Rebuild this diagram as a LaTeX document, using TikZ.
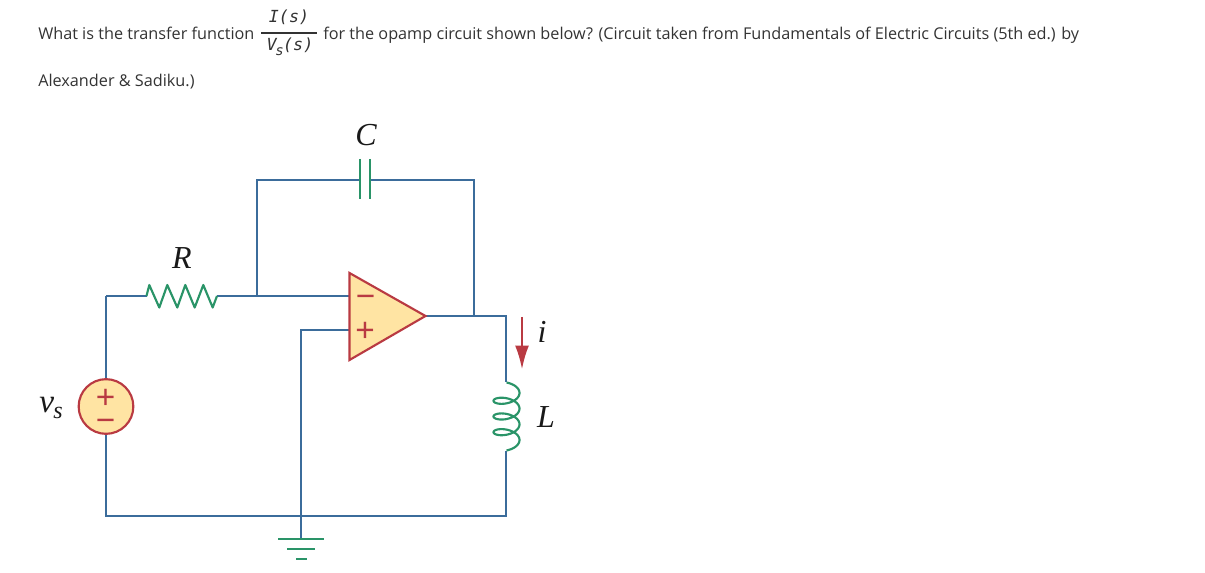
\documentclass[tikz,border=0pt]{standalone}
\usepackage{fontspec}
\setmainfont{Open Sans}
\setsansfont{Liberation Sans}
\newfontfamily\fracfont{DejaVu Sans Mono}
\newfontfamily\labelfont{Liberation Serif}
\usetikzlibrary{arrows.meta}
\definecolor{wireblue}{HTML}{3B6C9B}
\definecolor{partgreen}{HTML}{2A9468}
\definecolor{opred}{HTML}{B93A42}
\definecolor{opfill}{HTML}{FFE4A3}
\definecolor{textgray}{HTML}{333333}
\tikzset{
    wire/.style={draw=wireblue, line width=1.9pt, line join=miter},
    part/.style={draw=partgreen, line width=1.6pt},
    question/.style={anchor=base west, text=textgray, font=\fontsize{12.18}{14}\selectfont, inner sep=0pt},
    fracpart/.style={text=textgray, font=\fontsize{12.5}{14}\fracfont\itshape, inner sep=0pt},
    complabel/.style={text=black!90, font=\fontsize{24}{25}\labelfont\itshape, inner sep=0pt},
    sign/.style={anchor=base, text=opred, font=\fontsize{25}{26}\sffamily, inner sep=0pt},
}
\begin{document}
\begin{tikzpicture}[x=0.75pt, y=-0.75pt, >={Latex[length=18pt, width=10.5pt]}]
    \useasboundingbox (0,0) rectangle (1205,573);

    % Question text
    \node[question] (q1) at (38,39.5) {What is the transfer function};
    \node[question] (q2) at (323,39.5) {for the opamp circuit shown below? (Circuit taken from Fundamentals of Electric Circuits (5th ed.) by};
    \node[question] (q3) at (38,86.5) {Alexander \& Sadiku.)};
    \node[fracpart] (num) at (289,17) {I(s)};
    \node[fracpart] (den) at (290,47) {V\kern-1pt\raisebox{-3.5pt}{\fontsize{10.5}{12}\selectfont s}\kern-0.5pt(s)};
    \coordinate (fl) at (261,33);
    \coordinate (fr) at (317,33);
    \draw[textgray, line width=0.9pt] (fl) -- (fr);

    % Corners and junctions
    \coordinate (nw) at (106,296);
    \coordinate (rl) at (146.5,296);
    \coordinate (rr) at (217,296);
    \coordinate (jn) at (257,296);
    \coordinate (tl) at (257,180);
    \coordinate (cl) at (360,180);
    \coordinate (cr) at (370,180);
    \coordinate (tr) at (474,180);
    \coordinate (jo) at (474,316);
    \coordinate (ne) at (506,316);
    \coordinate (lt) at (506,382);
    \coordinate (lb) at (506,451);
    \coordinate (se) at (506,516);
    \coordinate (jg) at (301,516);
    \coordinate (sw) at (106,516);
    \coordinate (ip) at (301,330);

    % Wires
    \draw[wire] (nw) -- (rl);
    \draw[wire] (rr) -- (349.5,296);
    \draw[wire] (jn) -- (tl) -- (cl);
    \draw[wire] (cr) -- (tr) -- (jo);
    \draw[wire] (425,316) -- (ne) -- (lt);
    \draw[wire] (lb) -- (se) -- (sw) -- (nw);
    \draw[wire] (349.5,330) -- (ip) -- (jg);

    % Opamp
    \coordinate (out) at (425.5,316);
    \coordinate (ot) at (349.5,273);
    \coordinate (ob) at (349.5,360);
    \draw[draw=opred, fill=opfill, line width=1.6pt, line join=miter] (ot) -- (out) -- (ob) -- cycle;
    \node[sign] (minus) at (365.5,307) {−};
    \node[sign] (plus) at (365,341) {+};

    % Source
    \node[circle, draw=opred, fill=opfill, line width=1.6pt, minimum size=41pt, inner sep=0pt] (vs) at (106,406.5) {};
    \node[sign] (vp) at (105.5,408) {+};
    \node[sign] (vm) at (105.5,431) {−};

    % Resistor
    \draw[part, line join=round] (rl) -- (149.3,285) -- (159.3,307.5) -- (167.3,285) -- (177.3,307.5)
        -- (185.3,285) -- (194.7,307.5) -- (203.3,285) -- (212.7,307.5) -- (rr);

    % Capacitor
    \draw[part] (360,159) -- (360,199);
    \draw[part] (370,159) -- (370,199);

    % Inductor
    \draw[part] plot[domain=0:1260, samples=160, smooth] ({506.5+13*sin(\x)},{389+\x/360*15.7-6.5*cos(\x)});

    % Ground
    \coordinate (gnd) at (301,539);
    \draw[wire] (jg) -- (gnd);
    \draw[part] (278,539) -- (324,539);
    \draw[part] (287,549) -- (315,549);
    \draw[part] (296,559) -- (307,559);

    % Current arrow
    \coordinate (as) at (522,317);
    \coordinate (ae) at (522,369.5);
    \draw[->, opred, line width=1.8pt] (as) -- (ae);

    % Labels
    \node[complabel] (labc) at (366,135) {C};
    \node[complabel] (labr) at (182,258) {R};
    \node[complabel] (labl) at (546,417) {L};
    \node[complabel] (labi) at (542,332) {i};
    \node[complabel, font=\fontsize{25}{26}\labelfont\itshape] (labv) at (51,408) {v\kern-0.5pt\raisebox{-5pt}{\fontsize{18}{20}\selectfont s}};
\end{tikzpicture}
\end{document}
